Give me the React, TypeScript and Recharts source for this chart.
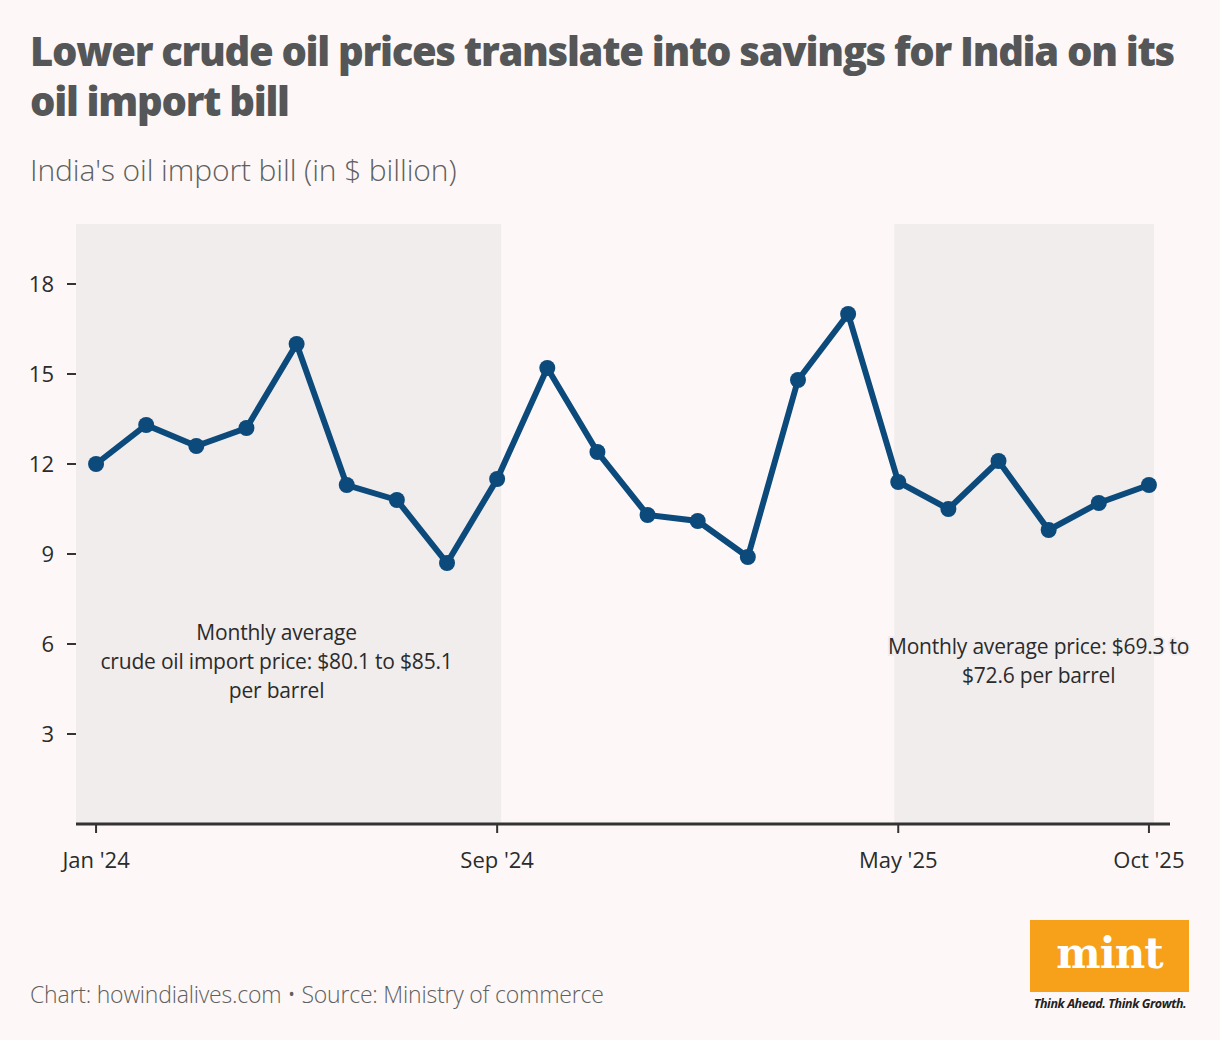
import React from "react";
import {
  LineChart,
  Line,
  XAxis,
  YAxis,
  ReferenceArea,
  ReferenceDot,
} from "recharts";

// India's monthly oil import bill, Jan 2024 – Oct 2025 ($ billion)
const months = [
  "Jan '24", "Feb '24", "Mar '24", "Apr '24", "May '24", "Jun '24",
  "Jul '24", "Aug '24", "Sep '24", "Oct '24", "Nov '24", "Dec '24",
  "Jan '25", "Feb '25", "Mar '25", "Apr '25", "May '25", "Jun '25",
  "Jul '25", "Aug '25", "Sep '25", "Oct '25",
];
const importBill = [
  12.0, 13.3, 12.6, 13.2, 16.0, 11.3, 10.8, 8.7, 11.5, 15.2, 12.4, 10.3,
  10.1, 8.9, 14.8, 17.0, 11.4, 10.5, 12.1, 9.8, 10.7, 11.3,
];
const xTicks = [0, 8, 16, 21];
const yTicks = [3, 6, 9, 12, 15, 18];

const priceNoteHigh = [
  "Monthly average",
  "crude oil import price: $80.1 to $85.1",
  "per barrel",
];
const priceNoteLow = ["Monthly average price: $69.3 to", "$72.6 per barrel"];

const data = months.map((m, i) => ({ idx: i, month: m, bill: importBill[i] }));

const FONT = "'Open Sans', 'Noto Sans', sans-serif";
const INK = "#2b2b2b";
const LINE = "#0c4a7b";
const SHADE = "#f1eded";
const BG = "#fdf8f7";

const Note = (lines: string[]) => (props: any) => {
  const { cx, cy } = props;
  return (
    <text
      x={cx}
      y={cy}
      textAnchor="middle"
      fontFamily={FONT}
      fontSize={21}
      fill={INK}
      stroke={SHADE}
      strokeWidth={4}
      paintOrder="stroke"
      dominantBaseline="middle"
      letterSpacing={-0.2}
    >
      {lines.map((l, i) => (
        <tspan key={i} x={cx} dy={i === 0 ? 0 : 29}>
          {l}
        </tspan>
      ))}
    </text>
  );
};

export default function App() {
  return (
    <div
      style={{
        position: "absolute",
        left: 0,
        top: 0,
        width: 1220,
        height: 1040,
        background: BG,
        fontFamily: FONT,
        overflow: "hidden",
      }}
    >
      <div
        style={{
          position: "absolute",
          left: 30,
          top: 26,
          width: 1180,
          fontSize: 40,
          lineHeight: "50px",
          fontWeight: 800,
          letterSpacing: -1.3,
          color: "#555657",
        }}
      >
        Lower crude oil prices translate into savings for India on its
        <br />
        oil import bill
      </div>
      <div
        style={{
          position: "absolute",
          left: 30,
          top: 149,
          fontSize: 30,
          fontWeight: 300,
          color: "#5f5f5f",
          letterSpacing: -0.1,
        }}
      >
        India's oil import bill (in $ billion)
      </div>

      <div style={{ position: "absolute", left: 0, top: 0 }}>
        <LineChart
          width={1220}
          height={900}
          data={data}
          margin={{ top: 224, right: 50, bottom: 16, left: 20 }}
        >
          <ReferenceArea x1={-0.4} x2={8.08} y1={0} y2={20} fill={SHADE} fillOpacity={1} />
          <ReferenceArea x1={15.92} x2={21.1} y1={0} y2={20} fill={SHADE} fillOpacity={1} />
          <XAxis
            dataKey="idx"
            type="number"
            domain={[-0.4, 21.42]}
            ticks={xTicks}
            tickFormatter={(v: number) => months[v]}
            height={60}
            axisLine={{ stroke: "#333", strokeWidth: 3 }}
            tickLine={{ stroke: "#333", strokeWidth: 2 }}
            tickSize={9}
            tickMargin={19}
            tick={{ fill: INK, fontSize: 22, fontFamily: FONT }}
            interval={0}
          />
          <YAxis
            type="number"
            domain={[0, 20]}
            ticks={yTicks}
            width={56}
            axisLine={false}
            tickLine={{ stroke: "#333", strokeWidth: 2 }}
            tickSize={9}
            tickMargin={13}
            tick={{ fill: INK, fontSize: 22, fontFamily: FONT }}
            interval={0}
          />
          <ReferenceDot x={3.6} y={6.33} r={0} shape={Note(priceNoteHigh)} />
          <ReferenceDot x={18.8} y={5.87} r={0} shape={Note(priceNoteLow)} />
          <Line
            type="linear"
            dataKey="bill"
            stroke={LINE}
            strokeWidth={6}
            dot={{ r: 8, fill: LINE, stroke: LINE, strokeWidth: 0 }}
            activeDot={false}
            isAnimationActive={false}
          />
        </LineChart>
      </div>

      <div
        style={{
          position: "absolute",
          left: 30,
          top: 978,
          fontSize: 23,
          fontWeight: 300,
          color: "#5f5f5f",
          letterSpacing: -0.2,
        }}
      >
        Chart: howindialives.com • Source: Ministry of commerce
      </div>

      <div
        style={{
          position: "absolute",
          left: 1030,
          top: 920,
          width: 159,
          height: 72,
          background: "#f7a11b",
          color: "#fff",
          fontFamily: "'DejaVu Serif', serif",
          fontWeight: 700,
          fontSize: 42,
          lineHeight: "68px",
          textAlign: "center",
          letterSpacing: -1,
        }}
      >
        mint
      </div>
      <div
        style={{
          position: "absolute",
          left: 1030,
          top: 995,
          width: 160,
          textAlign: "center",
          fontSize: 12.5,
          fontStyle: "italic",
          fontWeight: 700,
          color: "#222",
          letterSpacing: -0.4,
          whiteSpace: "nowrap",
        }}
      >
        Think Ahead. Think Growth.
      </div>
    </div>
  );
}
